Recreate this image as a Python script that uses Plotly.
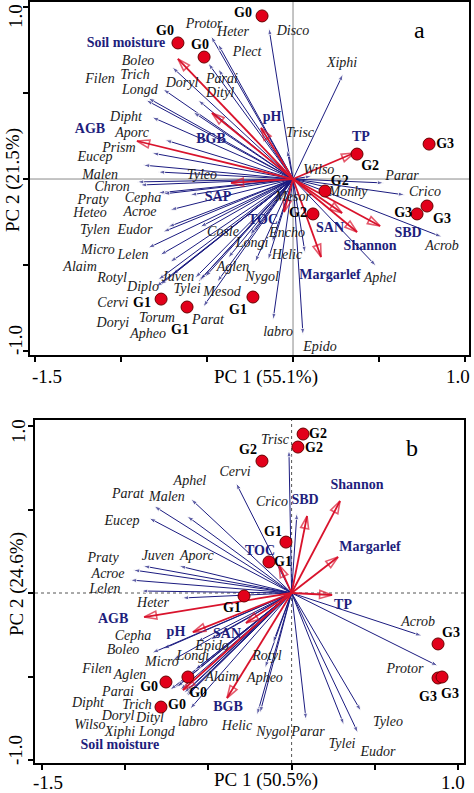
import plotly.graph_objects as go

# ---------------- Panel a data ----------------
a_sp_names = ["Protor", "Heter", "Disco", "Plect", "Xiphi", "Boleo", "Filen", "Trich", "Longd", "Doryl",
              "Parai", "Dityl", "Dipht", "Aporc", "Prism", "Eucep", "Malen", "Tyleo", "Chron", "Cepha",
              "Praty", "Heteo", "Acroe", "Tylen", "Eudor", "Micro", "Lelen", "Alaim", "Rotyl", "Diplo",
              "Juven", "Tylei", "Mesod", "Parat", "Cervi", "Torum", "Doryi", "Apheo", "Cosle", "Longi",
              "Aglen", "Nygol", "Encho", "Helic", "Mesor", "labro", "Epido", "Trisc", "Wilso", "Parar",
              "Monhy", "Crico", "Acrob", "Aphel"]
a_sp_pc1 = [-0.477, -0.436, -0.140, -0.436, 0.291, -0.703, -0.855, -0.756, -0.843, -0.494,
            -0.552, -0.581, -0.820, -0.744, -0.820, -0.872, -0.907, -0.785, -0.890, -0.785,
            -0.756, -0.715, -0.599, -0.727, -0.756, -0.843, -0.773, -0.785, -0.715, -0.703,
            -0.570, -0.512, -0.442, -0.523, -0.773, -0.552, -0.797, -0.541, -0.541, -0.250,
            -0.378, -0.221, -0.122, -0.145, 0.070, -0.116, 0.058, -0.035, 0.110, 0.529,
            0.215, 0.651, 0.866, 0.483]
a_sp_pc2 = [0.831, 0.785, 0.878, 0.640, 0.610, 0.651, 0.459, 0.523, 0.471, 0.674,
            0.459, 0.390, 0.360, 0.227, 0.151, 0.081, -0.017, 0.041, -0.035, -0.081,
            -0.087, -0.180, -0.093, -0.279, -0.308, -0.401, -0.442, -0.587, -0.483, -0.558,
            -0.576, -0.570, -0.599, -0.744, -0.616, -0.599, -0.628, -0.587, -0.279, -0.326,
            -0.459, -0.483, -0.366, -0.471, -0.430, -0.820, -0.907, 0.169, 0.017, -0.023,
            -0.052, -0.093, -0.337, -0.506]
a_sp_lab_x = [-0.517, -0.349, 0.000, -0.267, 0.285, -0.901, -1.122, -0.919, -0.890, -0.645,
              -0.413, -0.424, -0.971, -0.936, -1.012, -1.151, -1.122, -0.529, -1.052, -0.872,
              -1.163, -1.180, -0.890, -1.151, -0.919, -1.134, -0.930, -1.238, -1.052, -0.872,
              -0.669, -0.616, -0.413, -0.494, -1.047, -0.791, -1.047, -0.843, -0.407, -0.238,
              -0.349, -0.180, -0.035, -0.035, 0.000, -0.087, 0.157, 0.041, 0.150, 0.634,
              0.320, 0.767, 0.866, 0.506]
a_sp_lab_y = [0.901, 0.849, 0.855, 0.738, 0.674, 0.686, 0.581, 0.600, 0.515, 0.558,
              0.576, 0.500, 0.355, 0.267, 0.180, 0.128, 0.023, 0.023, -0.052, -0.116,
              -0.122, -0.198, -0.192, -0.302, -0.302, -0.413, -0.442, -0.517, -0.576, -0.628,
              -0.570, -0.645, -0.657, -0.820, -0.721, -0.808, -0.837, -0.901, -0.308, -0.372,
              -0.512, -0.570, -0.314, -0.442, -0.105, -0.895, -0.977, 0.267, 0.050, 0.012,
              -0.081, -0.081, -0.395, -0.581]

a_env_names = ["Soil moisture", "AGB", "BGB", "pH", "SAP", "TOC", "TP", "SAN", "SBD", "Shannon", "Margarlef"]
a_env_pc1 = [-0.669, -0.907, -0.471, -0.186, -0.360, -0.052, 0.355, 0.285, 0.506, 0.372, 0.163]
a_env_pc2 = [0.698, 0.221, 0.384, 0.297, -0.023, -0.192, 0.151, -0.198, -0.273, -0.308, -0.453]
a_env_lab_x = [-0.971, -1.180, -0.477, -0.122, -0.436, -0.174, 0.395, 0.215, 0.669, 0.448, 0.215]
a_env_lab_y = [0.785, 0.285, 0.227, 0.360, -0.110, -0.244, 0.244, -0.285, -0.314, -0.395, -0.558]

a_site_names = ["G0", "G0", "G0", "G2", "G3", "G2", "G2", "G3", "G3", "G1", "G1", "G1"]
a_site_pc1 = [-0.669, -0.517, -0.180, 0.372, 0.791, 0.186, 0.116, 0.721, 0.779, -0.767, -0.616, -0.233]
a_site_pc2 = [0.791, 0.709, 0.948, 0.145, 0.203, -0.070, -0.203, -0.203, -0.157, -0.698, -0.744, -0.686]
a_site_lab_x = [-0.744, -0.541, -0.291, 0.448, 0.884, 0.272, 0.029, 0.640, 0.866, -0.878, -0.657, -0.320]
a_site_lab_y = [0.855, 0.779, 0.965, 0.070, 0.198, -0.012, -0.203, -0.203, -0.233, -0.721, -0.878, -0.762]

# ---------------- Panel b data ----------------
b_sp_names = ["Trisc", "Cervi", "Aphel", "Parat", "Malen", "Eucep", "Crico", "Praty", "Juven", "Aporc",
              "Acroe", "Lelen", "Heter", "Cepha", "Boleo", "Micro", "Longi", "Epido", "Filen", "Aglen",
              "Parai", "Dipht", "Trich", "Doryl", "Dityl", "labro", "Wilso", "Xiphi", "Longd", "Alaim",
              "Rotyl", "Apheo", "Helic", "Nygol", "Parar", "Tylei", "Eudor", "Tyleo", "Acrob", "Protor"]
b_sp_pc1 = [-0.016, -0.334, -0.605, -0.827, -0.629, -0.857, 0.032, -0.953, -0.893, -0.677,
            -0.971, -0.905, -0.659, -0.773, -0.839, -0.713, -0.569, -0.490, -0.701, -0.731,
            -0.689, -0.671, -0.653, -0.635, -0.623, -0.611, -0.647, -0.635, -0.629, -0.581,
            -0.160, -0.112, -0.208, -0.190, 0.087, 0.315, 0.399, 0.417, 0.784, 0.880]
b_sp_pc2 = [0.856, 0.659, 0.563, 0.521, 0.461, 0.449, 0.479, 0.138, 0.162, 0.162,
            0.078, 0.012, -0.030, -0.335, -0.359, -0.401, -0.293, -0.281, -0.569, -0.581,
            -0.563, -0.581, -0.581, -0.593, -0.605, -0.695, -0.599, -0.611, -0.617, -0.461,
            -0.449, -0.299, -0.731, -0.719, -0.760, -0.790, -0.838, -0.707, -0.257, -0.437]
b_sp_lab_x = [-0.100, -0.340, -0.611, -0.983, -0.749, -1.019, -0.118, -1.133, -0.803, -0.569,
              -1.103, -1.121, -0.833, -0.953, -1.013, -0.779, -0.593, -0.478, -1.169, -0.971,
              -1.043, -1.224, -0.929, -1.043, -0.851, -0.593, -1.212, -1.032, -0.809, -0.418,
              -0.148, -0.160, -0.328, -0.112, 0.099, 0.303, 0.519, 0.579, 0.760, 0.681]
b_sp_lab_y = [0.916, 0.719, 0.665, 0.587, 0.569, 0.431, 0.539, 0.205, 0.216, 0.216,
              0.108, 0.024, -0.060, -0.263, -0.347, -0.419, -0.383, -0.323, -0.461, -0.491,
              -0.593, -0.659, -0.671, -0.737, -0.749, -0.778, -0.796, -0.838, -0.838, -0.503,
              -0.383, -0.509, -0.802, -0.838, -0.838, -0.910, -0.958, -0.778, -0.174, -0.461]

b_env_names = ["Shannon", "SBD", "Margarlef", "TP", "TOC", "AGB", "pH", "SAN", "Soil moisture", "BGB"]
b_env_pc1 = [0.291, 0.093, 0.279, 0.243, -0.076, -0.886, -0.593, -0.274, -0.653, -0.388]
b_env_pc2 = [0.551, 0.461, 0.216, -0.012, 0.168, -0.144, -0.234, -0.180, -0.581, -0.629]
b_env_lab_x = [0.393, 0.081, 0.471, 0.309, -0.190, -1.073, -0.695, -0.388, -1.032, -0.382]
b_env_lab_y = [0.641, 0.551, 0.275, -0.072, 0.246, -0.156, -0.234, -0.251, -0.916, -0.683]

b_site_names = ["G2", "G2", "G2", "G1", "G1", "G1", "G0", "G0", "G0", "G3", "G3", "G3"]
b_site_pc1 = [0.069, 0.038, -0.178, -0.034, -0.136, -0.286, -0.755, -0.623, -0.785, 0.880, 0.880, 0.904]
b_site_pc2 = [0.952, 0.874, 0.790, 0.305, 0.186, -0.018, -0.533, -0.503, -0.683, -0.305, -0.509, -0.503]
b_site_lab_x = [0.159, 0.135, -0.262, -0.112, -0.052, -0.358, -0.856, -0.562, -0.689, 0.958, 0.820, 0.952]
b_site_lab_y = [0.952, 0.868, 0.856, 0.365, 0.180, -0.090, -0.563, -0.599, -0.671, -0.240, -0.623, -0.605]

# ---------------- Styling ----------------
NAVY = "#1b1b80"
ENV_TXT = "#1e1e7c"
RED = "#d9132c"
DOT = "#e2001a"
SERIF = "Liberation Serif, Times New Roman, serif"

fig = go.Figure()


def add_panel(xa, ya, sp, env, site):
    sp_n, sp_x, sp_y, sp_lx, sp_ly = sp
    env_n, env_x, env_y, env_lx, env_ly = env
    st_n, st_x, st_y, st_lx, st_ly = site
    # species arrows
    for x, y in zip(sp_x, sp_y):
        fig.add_trace(go.Scatter(
            x=[0, x], y=[0, y], xaxis=xa, yaxis=ya, mode="lines+markers",
            line=dict(color=NAVY, width=1),
            marker=dict(symbol="arrow", size=[0, 7], angleref="previous", color=NAVY),
            hoverinfo="skip", showlegend=False, cliponaxis=False))
    # environmental arrows
    for x, y in zip(env_x, env_y):
        fig.add_trace(go.Scatter(
            x=[0, x], y=[0, y], xaxis=xa, yaxis=ya, mode="lines+markers",
            line=dict(color=RED, width=1.8),
            marker=dict(symbol="arrow-open", size=[0, 13], angleref="previous", color=RED,
                        line=dict(width=1.6, color=RED)),
            hoverinfo="skip", showlegend=False, cliponaxis=False))
    # species labels
    fig.add_trace(go.Scatter(
        x=sp_lx, y=sp_ly, text=sp_n, mode="text", xaxis=xa, yaxis=ya,
        textfont=dict(family=SERIF, size=14, style="italic", color="#1a1a1a"),
        textposition="middle center", hoverinfo="skip", showlegend=False, cliponaxis=False))
    # env labels
    fig.add_trace(go.Scatter(
        x=env_lx, y=env_ly, text=env_n, mode="text", xaxis=xa, yaxis=ya,
        textfont=dict(family=SERIF, size=14, weight="bold", color=ENV_TXT),
        textposition="middle center", hoverinfo="skip", showlegend=False, cliponaxis=False))
    # sites
    fig.add_trace(go.Scatter(
        x=st_x, y=st_y, mode="markers", xaxis=xa, yaxis=ya,
        marker=dict(size=12, color=DOT, line=dict(color="#6a0000", width=1)),
        hoverinfo="skip", showlegend=False, cliponaxis=False))
    fig.add_trace(go.Scatter(
        x=st_lx, y=st_ly, text=st_n, mode="text", xaxis=xa, yaxis=ya,
        textfont=dict(family=SERIF, size=14, weight="bold", color="black"),
        textposition="middle center", hoverinfo="skip", showlegend=False, cliponaxis=False))


add_panel("x", "y",
          (a_sp_names, a_sp_pc1, a_sp_pc2, a_sp_lab_x, a_sp_lab_y),
          (a_env_names, a_env_pc1, a_env_pc2, a_env_lab_x, a_env_lab_y),
          (a_site_names, a_site_pc1, a_site_pc2, a_site_lab_x, a_site_lab_y))
add_panel("x2", "y2",
          (b_sp_names, b_sp_pc1, b_sp_pc2, b_sp_lab_x, b_sp_lab_y),
          (b_env_names, b_env_pc1, b_env_pc2, b_env_lab_x, b_env_lab_y),
          (b_site_names, b_site_pc1, b_site_pc2, b_site_lab_x, b_site_lab_y))

W, H = 474, 793
ax_common = dict(showgrid=False, zeroline=False, showline=True, linecolor="black", linewidth=2,
                 mirror=True, ticks="outside", ticklen=5, tickwidth=1.5, tickcolor="black",
                 showticklabels=False, fixedrange=True)

xticks = [-1.5, -1.0, -0.5, 0.0, 0.5, 1.0]
yticks = [-1.0, -0.5, 0.0, 0.5, 1.0]

fig.update_layout(
    width=W, height=H, margin=dict(l=0, r=0, t=0, b=0),
    paper_bgcolor="white", plot_bgcolor="white", showlegend=False,
    xaxis=dict(domain=[30 / W, 469 / W], range=[-1.529, 1.023], tickvals=xticks, anchor="y", **ax_common),
    yaxis=dict(domain=[1 - 355 / H, 1 - 2 / H], range=[-1.023, 1.029], tickvals=yticks, anchor="x", **ax_common),
    xaxis2=dict(domain=[35 / W, 464 / W], range=[-1.542, 1.036], tickvals=xticks, anchor="y2", **ax_common),
    yaxis2=dict(domain=[1 - 763 / H, 1 - 420 / H], range=[-1.018, 1.036], tickvals=yticks, anchor="x2", **ax_common),
)

shapes = []
for xr, yr, dash, col in [("x", "y", "solid", "#8a8a8a"), ("x2", "y2", "dot", "#555555")]:
    shapes.append(dict(type="line", xref=f"{xr} domain", yref=yr, x0=0, x1=1, y0=0, y1=0,
                       line=dict(color=col, width=1, dash=dash), layer="below"))
    shapes.append(dict(type="line", xref=xr, yref=f"{yr} domain", x0=0, x1=0, y0=0, y1=1,
                       line=dict(color=col, width=1, dash=dash), layer="below"))
fig.update_layout(shapes=shapes)


def ann(text, px, py, size=19, angle=0):
    return dict(text=text, x=px / W, y=1 - py / H, xref="paper", yref="paper", showarrow=False,
                xanchor="center", yanchor="middle", textangle=angle,
                font=dict(family=SERIF, size=size, color="black"))


annotations = [
    ann("-1.5", 47, 376), ann("1.0", 458, 376), ann("PC 1 (55.1%)", 266, 377),
    ann("1.0", 15, 16, angle=-90), ann("-1.0", 15, 340, angle=-90),
    ann("PC 2 (21.5%)", 13, 180, angle=-90), ann("a", 419, 30, size=24),
    ann("-1.5", 48, 782), ann("1.0", 453, 782), ann("PC 1 (50.5%)", 266, 780),
    ann("1.0", 18, 431, angle=-90), ann("-1.0", 15, 750, angle=-90),
    ann("PC 2 (24.6%)", 17, 584, angle=-90), ann("b", 412, 448, size=24),
]
fig.update_layout(annotations=annotations)

fig.write_html("out.html")
